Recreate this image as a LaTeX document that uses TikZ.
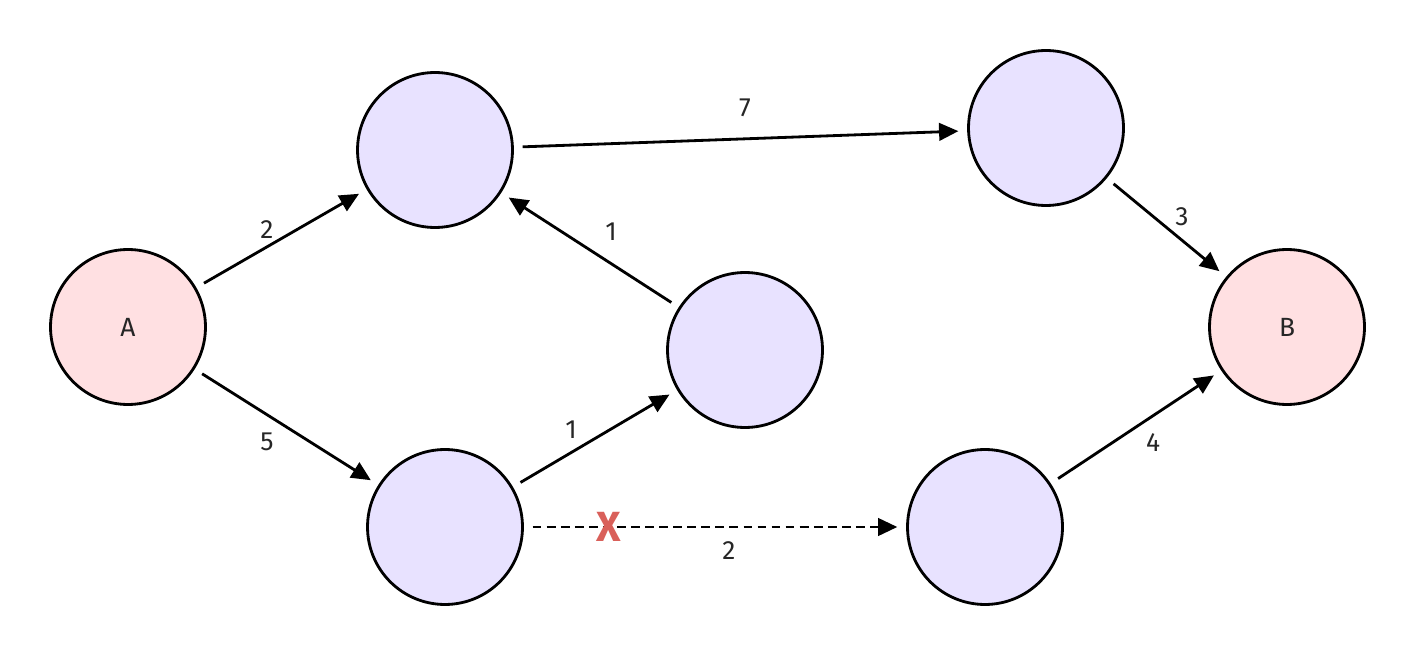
\documentclass[tikz,border=0pt]{standalone}
\usepackage{fontspec}
\setmainfont{Fira Sans}
\usetikzlibrary{arrows.meta}
\definecolor{lav}{HTML}{E8E2FF}
\definecolor{pnk}{HTML}{FFE0E2}
\definecolor{xred}{HTML}{D9605A}
\begin{document}
\begin{tikzpicture}[x=0.02cm,y=-0.02cm,
  st/.style={circle,draw=black,line width=1.6pt,minimum size=3.1cm,inner sep=0pt,font=\fontsize{15}{18}\selectfont,text=black!85},
  lv/.style={st,fill=lav}, pk/.style={st,fill=pnk},
  ed/.style={line width=1.6pt,-{Triangle[length=11pt,width=10pt]},shorten >=5pt,shorten <=5pt},
  lb/.style={font=\fontsize{15}{18}\selectfont,text=black!85}]
\useasboundingbox (0,0) rectangle (1416,658);
\node[pk] (A) at (128,327) {A};
\node[pk] (B) at (1287,327) {B};
\node[lv] (n1) at (435,150) {};
\node[lv] (n2) at (1046,128) {};
\node[lv] (n3) at (745,350) {};
\node[lv] (n4) at (445,527) {};
\node[lv] (n5) at (985,527) {};
\draw[ed] (A) -- (n1);
\draw[ed] (A) -- (n4);
\draw[ed] (n1) -- (n2);
\draw[ed] (n3) -- (n1);
\draw[ed] (n4) -- (n3);
\draw[ed] (n2) -- (B);
\draw[ed] (n5) -- (B);
\draw[ed,dash pattern=on 5pt off 3pt] (n4) -- (n5);
\node[lb] (l1) at (267,230) {2};
\node[lb] (l2) at (267,442) {5};
\node[lb] (l3) at (745,108) {7};
\node[lb] (l4) at (611,232) {1};
\node[lb] (l5) at (571,430) {1};
\node[lb] (l6) at (1182,217) {3};
\node[lb] (l7) at (1153,443) {4};
\node[lb] (l8) at (729,551) {2};
\node[text=xred,font=\fontsize{24}{28}\selectfont\bfseries] (x) at (609,527) {X};
\end{tikzpicture}
\end{document}
